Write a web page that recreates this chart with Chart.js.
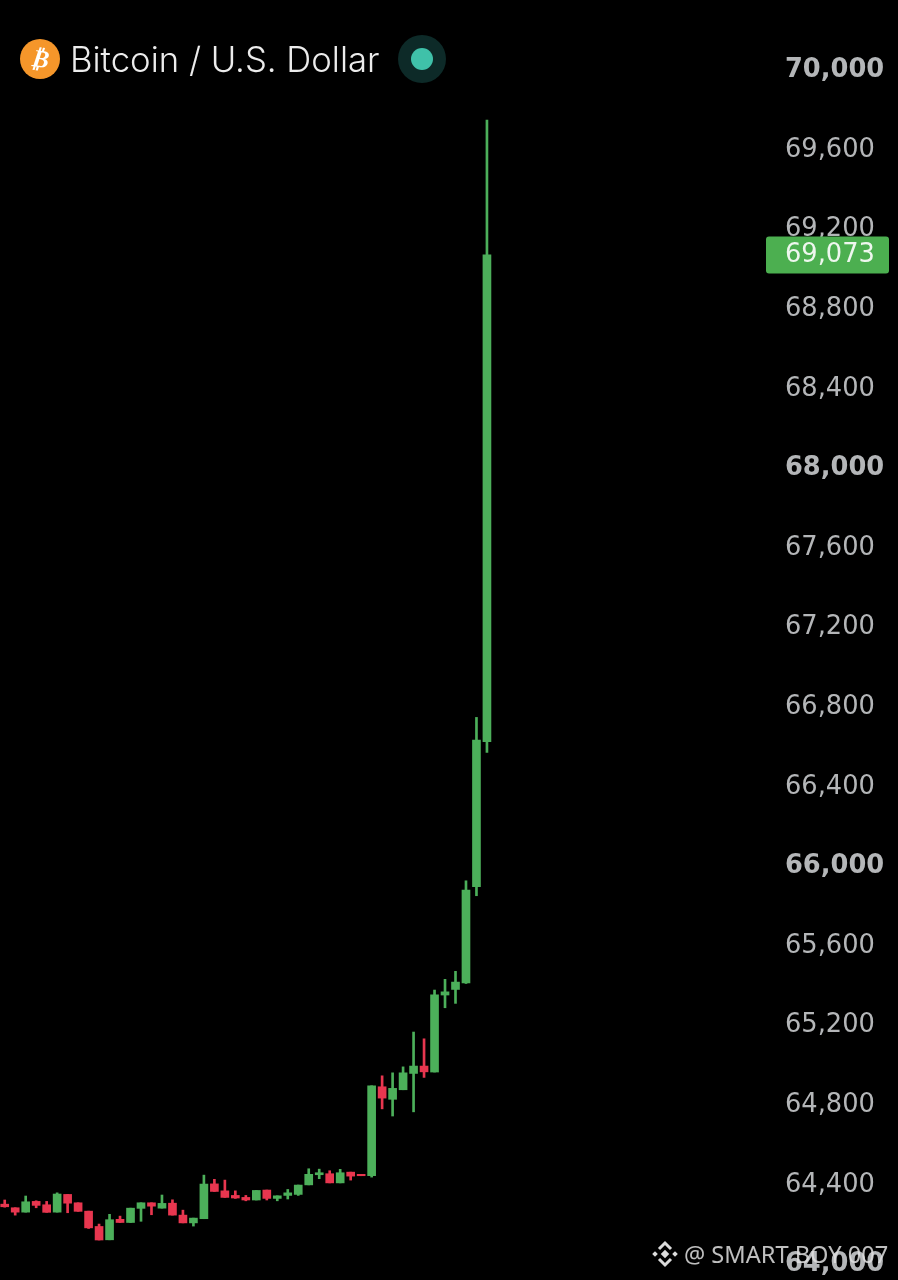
<!DOCTYPE html>
<html>
<head>
<meta charset="utf-8">
<title>Bitcoin / U.S. Dollar</title>
<script src="https://cdn.jsdelivr.net/npm/chart.js@4"></script>
<style>
  html, body { margin: 0; padding: 0; background: #000; }
  #wrap { position: relative; width: 898px; height: 1280px; overflow: hidden; background: #000; }
  #myChart { position: absolute; left: 0; top: 0; }
  #coin { position: absolute; left: 20px; top: 39px; width: 40px; height: 40px; border-radius: 50%; background: #f5962a; }
  #coin span { position: absolute; left: 0; top: 0; width: 40px; line-height: 40px; text-align: center; color: #fff;
    font: italic bold 25px/40px "DejaVu Sans"; transform: rotate(8deg); }
  #title { position: absolute; left: 70px; top: 38px; font: 300 34.7px/42px Inter; color: #ececec; white-space: nowrap; }
  #dotOuter { position: absolute; left: 398px; top: 35px; width: 48px; height: 48px; border-radius: 50%; background: #0d2a28; }
  #dotInner { position: absolute; left: 411px; top: 48px; width: 22px; height: 22px; border-radius: 50%; background: #3fc1a9; }
  #mark { position: absolute; left: 651px; top: 1240px; width: 28px; height: 28px; }
  #markText { position: absolute; left: 684px; top: 1239px; font: 400 23.6px/30px "Noto Sans"; color: rgba(225,225,225,0.85); white-space: nowrap; }
</style>
</head>
<body>
<div id="wrap">
  <canvas id="myChart" width="898" height="1280"></canvas>
  <div id="coin"><span>₿</span></div>
  <div id="title">Bitcoin / U.S. Dollar</div>
  <div id="dotOuter"></div>
  <div id="dotInner"></div>
  <svg id="mark" viewBox="0 0 28 28">
    <g fill="none" stroke="#dcdcdc" stroke-width="3">
      <path d="M8 9 L14 3 L20 9"/>
      <path d="M8 19 L14 25 L20 19"/>
    </g>
    <g fill="#dcdcdc">
      <rect x="11" y="11" width="6" height="6" transform="rotate(45 14 14)"/>
      <rect x="2" y="12" width="4" height="4" transform="rotate(45 4 14)"/>
      <rect x="22" y="12" width="4" height="4" transform="rotate(45 24 14)"/>
    </g>
  </svg>
  <div id="markText">@ SMART BOY 007</div>
</div>
<script>
// --- Chart data ---
const opens = [64303, 64285, 64263, 64317, 64300, 64263, 64352, 64310, 64268, 64191, 64124, 64227, 64211, 64282, 64310, 64283,
  64308, 64248, 64209, 64230, 64405, 64370, 64347, 64337, 64324, 64374, 64332, 64347, 64352, 64400, 64451, 64456,
  64410, 64464, 64453, 64446, 64893, 64830, 64878, 64960, 64997, 64967, 65354, 65382, 65415, 65898, 66627];
const closes = [64290, 64263, 64315, 64297, 64262, 64354, 64308, 64267, 64184, 64123, 64225, 64211, 64283, 64310, 64293, 64307,
  64248, 64209, 64233, 64404, 64367, 64337, 64334, 64324, 64372, 64332, 64345, 64360, 64399, 64453, 64461, 64410,
  64461, 64444, 64446, 64898, 64836, 64885, 64963, 64997, 64968, 65355, 65370, 65419, 65881, 66635, 69073];
const highs = [64324, 64285, 64344, 64320, 64317, 64360, 64352, 64310, 64268, 64203, 64252, 64243, 64283, 64310, 64310, 64349,
  64325, 64273, 64233, 64449, 64428, 64424, 64370, 64347, 64372, 64374, 64345, 64377, 64399, 64481, 64479, 64471,
  64478, 64464, 64453, 64898, 64948, 64963, 64993, 65168, 65134, 65379, 65433, 65473, 65928, 66749, 69751];
const lows = [64288, 64248, 64263, 64285, 64262, 64263, 64260, 64267, 64181, 64123, 64124, 64211, 64211, 64217, 64250, 64283,
  64248, 64209, 64193, 64230, 64367, 64337, 64332, 64320, 64324, 64324, 64320, 64329, 64347, 64400, 64431, 64410,
  64410, 64424, 64446, 64439, 64782, 64746, 64878, 64767, 64940, 64967, 65290, 65312, 65412, 65853, 66573];
const priceTicks = [70000, 69600, 69200, 68800, 68400, 68000, 67600, 67200, 66800, 66400, 66000, 65600, 65200, 64800, 64400, 64000];
const boldTicks = [70000, 68000, 66000, 64000];

const upColor = '#4caf5a';
const downColor = '#e8364f';
const tickColor = '#b4b6b8';

const candleColor = (i) => (closes[i] >= opens[i] ? upColor : downColor);

// draws the green price tag on top of the axis labels
const lastPriceTag = {
  id: 'lastPriceTag',
  afterDraw(chart) {
    const { ctx } = chart;
    const lastClose = closes[closes.length - 1];
    const y = chart.scales.y.getPixelForValue(lastClose);
    ctx.save();
    ctx.fillStyle = '#4caf50';
    ctx.beginPath();
    ctx.roundRect(766, y - 18.5, 123, 37, 3);
    ctx.fill();
    ctx.fillStyle = '#eef7ee';
    ctx.font = '25.7px "DejaVu Sans"';
    ctx.textBaseline = 'middle';
    ctx.fillText(lastClose.toLocaleString('en-US'), 785, y);
    ctx.restore();
  },
};

new Chart(document.getElementById('myChart'), {
  type: 'bar',
  data: {
    datasets: [
      {
        // wicks
        data: lows.map((low, i) => ({ x: i, y: [low, highs[i]] })),
        backgroundColor: opens.map((_, i) => candleColor(i)),
        barThickness: 2,
        grouped: false,
        order: 2,
      },
      {
        // bodies
        data: opens.map((open, i) => ({ x: i, y: [open, closes[i]] })),
        backgroundColor: opens.map((_, i) => candleColor(i)),
        barThickness: 8,
        grouped: false,
        order: 1,
      },
    ],
  },
  options: {
    responsive: false,
    animation: false,
    layout: { padding: 0 },
    plugins: {
      legend: { display: false },
      tooltip: { enabled: false },
    },
    scales: {
      x: {
        type: 'linear',
        display: false,
        offset: false,
        min: -0.45,
        max: 73,
      },
      y: {
        position: 'right',
        min: 63922,
        max: 70354,
        grid: { display: false, drawTicks: false },
        border: { display: false },
        afterBuildTicks: (scale) => {
          scale.ticks = priceTicks.map((value) => ({ value }));
        },
        afterFit: (scale) => {
          // full height plot, no room kept for the first and last label
          scale.width = 128;
          scale.paddingTop = 0;
          scale.paddingBottom = 0;
        },
        ticks: {
          autoSkip: false,
          padding: 15,
          align: 'center',
          crossAlign: 'near',
          color: tickColor,
          font: (ctx) => ({
            family: '"DejaVu Sans"',
            size: 25.7,
            weight: ctx.tick && boldTicks.includes(ctx.tick.value) ? 'bold' : 'normal',
          }),
          callback: (value) => value.toLocaleString('en-US'),
        },
      },
    },
  },
  plugins: [lastPriceTag],
});
</script>
</body>
</html>
